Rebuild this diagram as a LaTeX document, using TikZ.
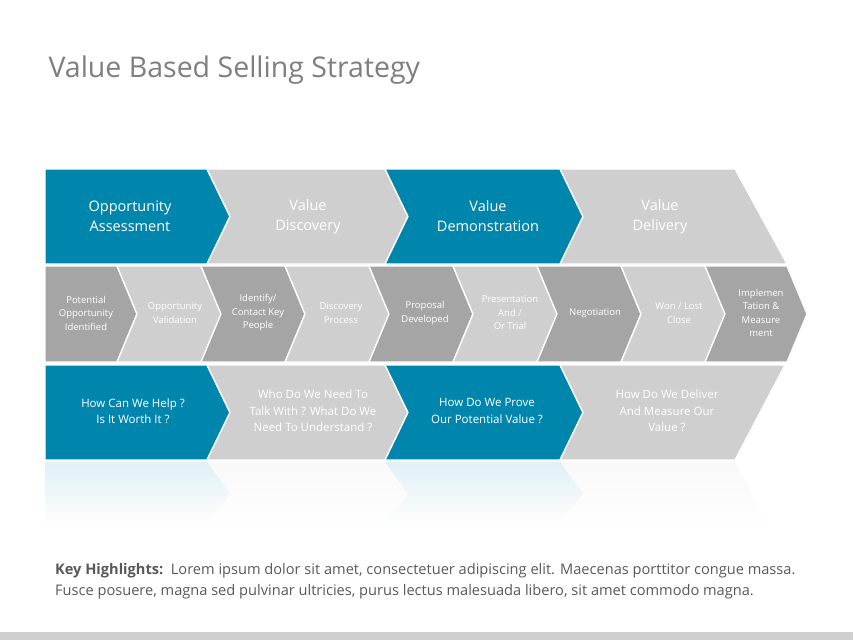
\documentclass[tikz,border=0pt]{standalone}
\usepackage{fontspec}
\setmainfont{Open Sans}
\usetikzlibrary{calc,fadings}
\definecolor{color_blue}{HTML}{0086AD}
\definecolor{color_light}{HTML}{D0CFD0}
\definecolor{color_dark}{HTML}{A6A5A6}
\definecolor{color_title}{HTML}{7F7F7F}
\definecolor{color_note}{HTML}{595959}
% chevron: left, top-right x, top y, bottom y, tip offset
\newcommand{\chevron}[5]{(#1,#3) -- (#2,#3) -- ($(#2,#3)!0.5!(#2,#4)+(#5,0)$) -- (#2,#4) -- (#1,#4) -- ($(#1,#3)!0.5!(#1,#4)+(#5,0)$) -- cycle}
\newcommand{\chevflat}[5]{(#1,#3) -- (#2,#3) -- ($(#2,#3)!0.5!(#2,#4)+(#5,0)$) -- (#2,#4) -- (#1,#4) -- cycle}
\tikzset{
	shape_box/.style={draw=white,line width=1.3pt},
	big_text/.style={text=white,align=center,font=\fontsize{14.5}{20}\selectfont},
	mid_text/.style={text=white,align=center,font=\fontsize{9.5}{13.5}\selectfont},
	low_text/.style={text=white,align=center,font=\fontsize{11.5}{16.5}\selectfont},
	mirror_box/.style={fill opacity=0.12,path fading=south}
}
\begin{document}
\begin{tikzpicture}[x=1pt,y=-1pt]
	\useasboundingbox[fill=white] (0,0) rectangle (853,640);
	% Title
	\node[anchor=west,text=color_title,font=\fontsize{28.5}{34}\selectfont] (title) at (45,70) {Value Based Selling Strategy};

	% Reflection
	\fill[color_blue,mirror_box] \chevflat{45}{207}{462}{525}{23};
	\fill[color_light,mirror_box] \chevron{207}{385}{462}{525}{23};
	\fill[color_blue,mirror_box] \chevron{385}{560}{462}{525}{23};
	\fill[color_light,mirror_box] (560,462) -- (735,462) -- (768,525) -- (560,525) -- (583,493.5) -- cycle;

	% Top row
	\fill[color_blue,shape_box] \chevflat{45}{207}{169}{264}{23};
	\fill[color_light,shape_box] \chevron{207}{385}{169}{264}{23};
	\fill[color_blue,shape_box] \chevron{385}{560}{169}{264}{23};
	\fill[color_light,shape_box] (560,169) -- (735,169) -- (787,264) -- (560,264) -- (583,216.5) -- cycle;
	\node[big_text] (opp) at (130,216.5) {Opportunity\\Assessment};
	\node[big_text] (disc) at (308,216.5) {Value\\Discovery};
	\node[big_text] (demo) at (488,216.5) {Value\\Demonstration};
	\node[big_text] (deliv) at (660,216.5) {Value\\Delivery};

	% Middle row
	\fill[color_dark,shape_box] \chevflat{45}{117}{266}{362}{20};
	\foreach \l/\r [count=\i] in {117/201,201/285,285/369,369/453,453/537,537/621,621/705,705/787}{
		\pgfmathsetmacro{\shade}{mod(\i,2)==1 ? 1 : 0}
		\ifdim\shade pt>0.5pt
			\fill[color_light,shape_box] \chevron{\l}{\r}{266}{362}{20};
		\else
			\fill[color_dark,shape_box] \chevron{\l}{\r}{266}{362}{20};
		\fi
	}
	\node[mid_text] (s1) at (86,313) {Potential\\Opportunity\\Identified};
	\node[mid_text] (s2) at (175,313) {Opportunity\\Validation};
	\node[mid_text] (s3) at (258,313) {Identify/\\Contact Key\\People};
	\node[mid_text] (s4) at (341,313) {Discovery\\Process};
	\node[mid_text] (s5) at (425,313) {Proposal\\Developed};
	\node[mid_text] (s6) at (510,313) {Presentation\\And /\\Or Trial};
	\node[mid_text] (s7) at (595,313) {Negotiation};
	\node[mid_text] (s8) at (679,313) {Won / Lost\\Close};
	\node[mid_text] (s9) at (761,313) {Implemen\\Tation \&\\Measure\\ment};

	% Bottom row
	\fill[color_blue,shape_box] \chevflat{45}{207}{365}{460}{23};
	\fill[color_light,shape_box] \chevron{207}{385}{365}{460}{23};
	\fill[color_blue,shape_box] \chevron{385}{560}{365}{460}{23};
	\fill[color_light,shape_box] (560,365) -- (785,365) -- (735,460) -- (560,460) -- (583,412.5) -- cycle;
	\node[low_text] (q1) at (133,411) {How Can We Help ?\\Is It Worth It ?};
	\node[low_text] (q2) at (313,411) {Who Do We Need To\\Talk With ? What Do We\\Need To Understand ?};
	\node[low_text] (q3) at (487,411) {How Do We Prove\\Our Potential Value ?};
	\node[low_text] (q4) at (667,411) {How Do We Deliver\\And Measure Our\\Value ?};

	% Key highlights
	\node[anchor=north west,align=left,text=color_note,inner sep=0pt,font=\fontsize{14.6}{21}\selectfont] (notes) at (55,563)
		{\textbf{Key Highlights:}\ \ Lorem ipsum dolor sit amet, consectetuer adipiscing elit. Maecenas porttitor congue massa.\\
		Fusce posuere, magna sed pulvinar ultricies, purus lectus malesuada libero, sit amet commodo magna.};
	\fill[color_light] (0,632) rectangle (853,640);
\end{tikzpicture}
\end{document}
